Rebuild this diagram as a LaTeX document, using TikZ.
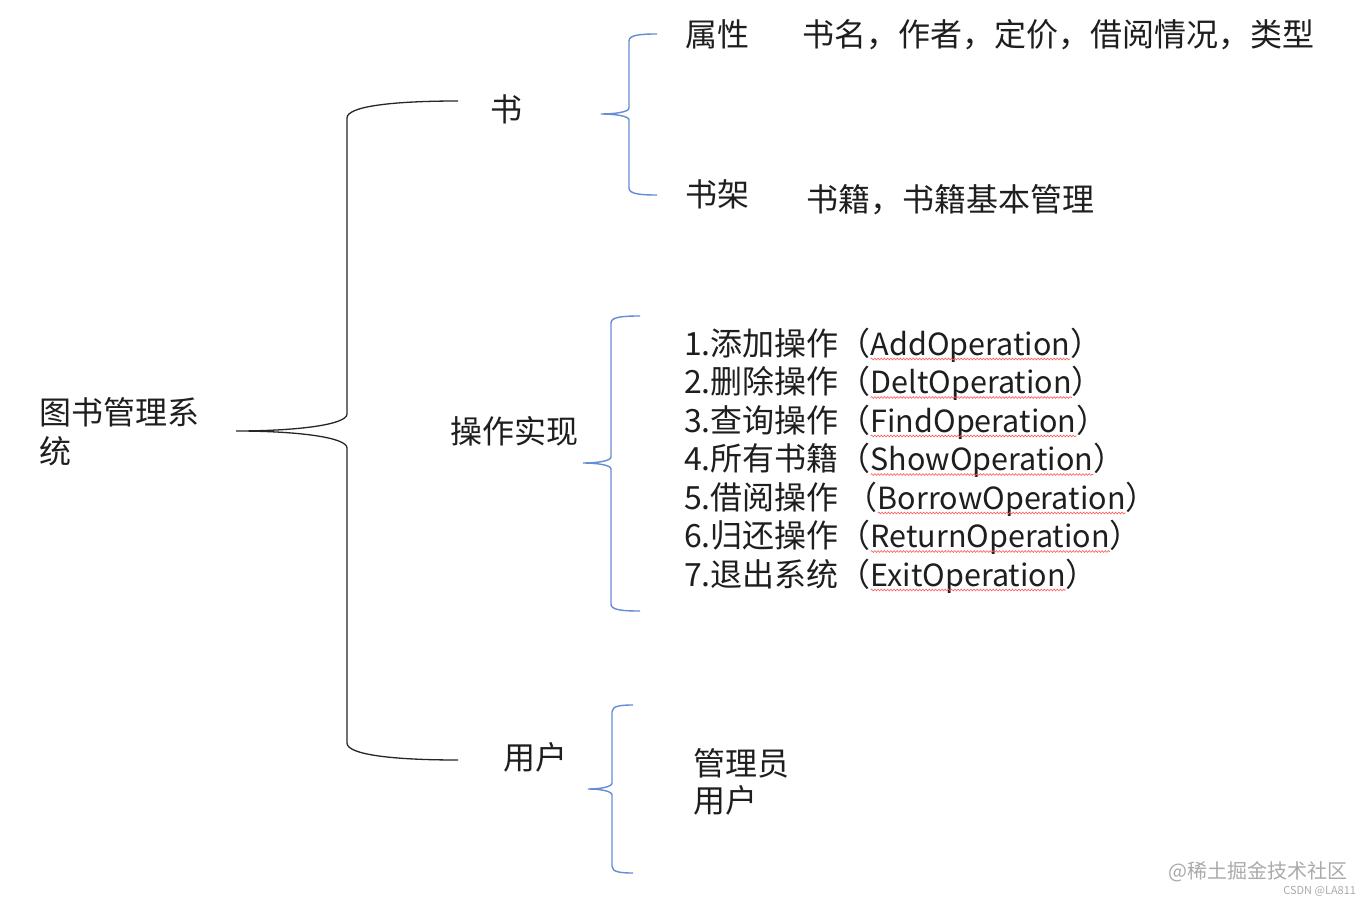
\documentclass[tikz,border=0pt]{standalone}
\usepackage{fontspec}
\setmainfont{Noto Sans CJK SC}
\usetikzlibrary{decorations.pathmorphing}
\definecolor{bracecol}{RGB}{100,140,215}
\definecolor{txtcol}{RGB}{30,30,30}
\definecolor{wmcol}{RGB}{170,170,170}
\tikzset{
  lbl/.style={inner sep=0pt, outer sep=0pt, anchor=base west, text=txtcol, font=\fontsize{32}{36}\selectfont},
  chain/.style={inner sep=0pt, outer sep=0pt, anchor=base west, text=txtcol, font=\fontsize{30.5}{36}\selectfont},
  bigbrace/.style={draw=black!85, line width=1.3pt},
  smallbrace/.style={draw=bracecol, line width=1.4pt},
  squig/.style={draw=red!65, line width=0.6pt, decorate, decoration={snake, amplitude=0.9pt, segment length=3.2pt}},
  wm/.style={inner sep=0pt, outer sep=0pt, text=wmcol}
}
\begin{document}
\begin{tikzpicture}[x=1pt,y=-1pt]
\useasboundingbox[fill=white] (0,0) rectangle (1365,901);

% main labels
\node[lbl] (sys1) at (39,424) {图书管理系};
\node[lbl] (sys2) at (39,463) {统};
\node[lbl] (book) at (490,122) {书};
\node[lbl] (ops) at (450,443) {操作实现};
\node[lbl] (user) at (503,769) {用户};

\node[lbl] (attr) at (685,47) {属性};
\node[lbl] (attrv) at (802,47) {书名，作者，定价，借阅情况，类型};
\node[lbl] (shelf) at (685,207) {书架};
\node[lbl] (shelfv) at (806,212) {书籍，书籍基本管理};

\node[lbl] (adm) at (693,775) {管理员};
\node[lbl] (usr) at (693,812) {用户};

% operation list
\node[lbl] (p1) at (684,355) {1.添加操作（};
\node[chain] (w1) at (p1.base east) {AddOperation};
\node[lbl] (q1) at (w1.base east) {）};
\node[lbl] (p2) at (684,393.5) {2.删除操作（};
\node[chain] (w2) at (p2.base east) {DeltOperation};
\node[lbl] (q2) at (w2.base east) {）};
\node[lbl] (p3) at (684,432) {3.查询操作（};
\node[chain] (w3) at (p3.base east) {FindOperation};
\node[lbl] (q3) at (w3.base east) {）};
\node[lbl] (p4) at (684,470.5) {4.所有书籍（};
\node[chain] (w4) at (p4.base east) {ShowOperation};
\node[lbl] (q4) at (w4.base east) {）};
\node[lbl] (p5) at (684,509) {5.借阅操作 （};
\node[chain] (w5) at (p5.base east) {BorrowOperation};
\node[lbl] (q5) at (w5.base east) {）};
\node[lbl] (p6) at (684,547.5) {6.归还操作（};
\node[chain] (w6) at (p6.base east) {ReturnOperation};
\node[lbl] (q6) at (w6.base east) {）};
\node[lbl] (p7) at (684,586) {7.退出系统（};
\node[chain] (w7) at (p7.base east) {ExitOperation};
\node[lbl] (q7) at (w7.base east) {）};

\foreach \i in {1,...,7}{
  \draw[squig] ([yshift=-4pt]w\i.base west) -- ([yshift=-4pt]w\i.base east);
}

% big brace
\coordinate (bt) at (458,101);
\coordinate (bm) at (236,431);
\coordinate (bb) at (458,760);
\draw[bigbrace] (bt) .. controls (395,101) and (347,106) .. (347,118) -- (347,414)
  .. controls (347,425) and (295,431) .. (bm)
  .. controls (295,431) and (347,437) .. (347,448) -- (347,743)
  .. controls (347,755) and (395,760) .. (bb);

% brace 1
\coordinate (at) at (657,34);
\coordinate (am) at (601,114);
\coordinate (ab) at (657,195);
\draw[smallbrace] (at) .. controls (640,34) and (629,35) .. (629,41) -- (629,108)
  .. controls (629,112) and (615,114) .. (am)
  .. controls (615,114) and (629,116) .. (629,120) -- (629,188)
  .. controls (629,194) and (640,195) .. (ab);

% brace 2
\coordinate (ct) at (640,316);
\coordinate (cm) at (583,463);
\coordinate (cb) at (640,611);
\draw[smallbrace] (ct) .. controls (622,316) and (611,317) .. (611,323) -- (611,457)
  .. controls (611,461) and (597,463) .. (cm)
  .. controls (597,463) and (611,465) .. (611,469) -- (611,604)
  .. controls (611,610) and (622,611) .. (cb);

% brace 3
\coordinate (dt) at (633,705);
\coordinate (dm) at (588,789);
\coordinate (db) at (633,873);
\draw[smallbrace] (dt) .. controls (620,705) and (612,706) .. (612,712) -- (612,783)
  .. controls (612,787) and (600,789) .. (dm)
  .. controls (600,789) and (612,791) .. (612,795) -- (612,866)
  .. controls (612,872) and (620,873) .. (db);

% watermark
\node[wm, anchor=base east, font=\fontsize{20}{22}\selectfont] (wm1) at (1347,878) {@稀土掘金技术社区};
\node[wm, anchor=base east, font=\fontsize{11}{12}\selectfont] (wm2) at (1356,894) {CSDN @LA811};
\end{tikzpicture}
\end{document}
